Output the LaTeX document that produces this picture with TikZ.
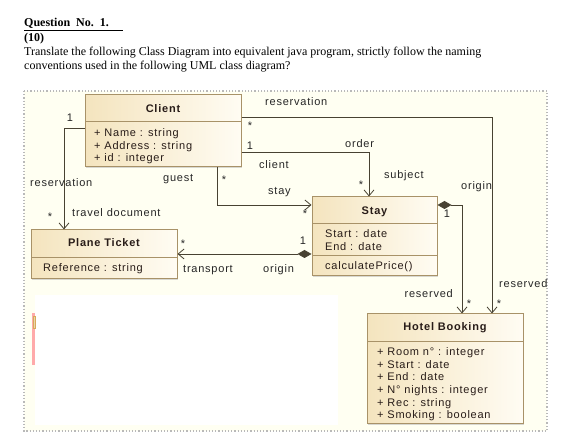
\documentclass[tikz,border=0pt]{standalone}
\usepackage{fontspec}
\setmainfont{Liberation Serif}
\newfontfamily\umlfont[LetterSpace=7]{Liberation Sans}
\usetikzlibrary{arrows.meta,shadows}
\definecolor{bgyellow}{RGB}{255,255,242}
\definecolor{framegray}{RGB}{185,185,185}
\definecolor{boxborder}{RGB}{168,146,104}
\definecolor{boxtan}{RGB}{244,228,190}
\definecolor{boxlight}{RGB}{255,252,243}
\definecolor{linecol}{RGB}{72,66,50}
\definecolor{umltext}{RGB}{40,28,24}
\definecolor{pinkstrip}{RGB}{255,170,170}
\definecolor{tanmark}{RGB}{215,170,90}
\tikzset{
  hdr/.style={font=\fontsize{12}{14}\selectfont, inner sep=0pt, anchor=base west},
  classbox/.style={draw=boxborder, line width=1pt, left color=boxtan, right color=boxlight, inner sep=0pt,
    drop shadow={shadow xshift=1pt, shadow yshift=-1.5pt, fill=black!30, opacity=0.5}},
  divider/.style={draw=boxborder, line width=1pt},
  umlf/.style={font=\umlfont\fontsize{11}{12.5}\selectfont, text=umltext, inner sep=0pt},
  cname/.style={umlf, font=\umlfont\fontsize{11}{12.5}\selectfont\bfseries, anchor=base},
  attr/.style={umlf, anchor=base west},
  lbl/.style={umlf, text=black!85, anchor=base west},
  lblr/.style={umlf, text=black!85, anchor=base east},
  mult/.style={umlf, text=black!85, anchor=base},
  assoc/.style={draw=linecol, line width=0.8pt, -{Straight Barb[length=6pt,width=10pt]}},
  comp/.style={draw=linecol, line width=0.8pt, {Diamond[length=14pt,width=8pt,fill=linecol]}-{Straight Barb[length=6pt,width=10pt]}},
}
\begin{document}
\begin{tikzpicture}[x=1pt,y=-1pt]
\useasboundingbox (0,0) rectangle (587,443);
% header
\node[hdr, font=\fontsize{12}{14}\selectfont\bfseries] (q) at (24,27) {\underline{Question\ \ No.\ \ 1.\hspace{14pt}}};
\node[hdr, font=\fontsize{12}{14}\selectfont\bfseries] (marks) at (24,42) {(10)};
\node[hdr] (l1) at (24,56) {Translate the following Class Diagram into equivalent java program, strictly follow the naming};
\node[hdr] (l2) at (24,70) {conventions used in the following UML class diagram?};
% frame and background
\fill[bgyellow] (24,91) rectangle (547,431);
\draw[framegray, line width=1.2pt, dotted] (24,91) rectangle (547,431);
\fill[white] (35,295) rectangle (338,425);
\fill[pinkstrip] (32,313) rectangle (35,365);
\filldraw[fill=tanmark!50, draw=tanmark] (33,316) rectangle (35,328);
% classes
\node[classbox, minimum width=156pt, minimum height=72pt] (client) at (163,131) {};
\draw[divider] (85,122) -- (241,122);
\node[cname] (clientn) at (163,113) {Client};
\node[attr] (c1) at (94,137) {+ Name : string};
\node[attr] (c2) at (94,150) {+ Address : string};
\node[attr] (c3) at (94,162) {+ id : integer};

\node[classbox, minimum width=125pt, minimum height=79pt] (stay) at (374.5,236.5) {};
\draw[divider] (312,224) -- (437,224);
\draw[divider] (312,256) -- (437,256);
\node[cname] (stayn) at (374.5,215) {Stay};
\node[attr] (s1) at (325,238) {Start : date};
\node[attr] (s2) at (325,251) {End : date};
\node[attr] (s3) at (325,270) {calculatePrice()};

\node[classbox, minimum width=146pt, minimum height=49pt] (plane) at (104,254.5) {};
\draw[divider] (31,258) -- (177,258);
\node[cname] (planen) at (104,247) {Plane Ticket};
\node[attr] (p1) at (43,272) {Reference : string};

\node[classbox, minimum width=156pt, minimum height=110pt] (hotel) at (445,369) {};
\draw[divider] (367,342) -- (523,342);
\node[cname] (hoteln) at (445,331) {Hotel Booking};
\node[attr] (h1) at (377,356) {+ Room n° : integer};
\node[attr] (h2) at (377,369) {+ Start : date};
\node[attr] (h3) at (377,381) {+ End : date};
\node[attr] (h4) at (377,394) {+ N° nights : integer};
\node[attr] (h5) at (377,407) {+ Rec : string};
\node[attr] (h6) at (377,419) {+ Smoking : boolean};
% connectors
\draw[assoc] ([yshift=3pt]client.west) -| ([xshift=-40pt]plane.north);
\draw[assoc] ([yshift=14pt]client.east) -| ([xshift=47pt]hotel.north);
\draw[assoc] ([yshift=-21pt]client.east) -| ([xshift=-5.5pt]stay.north);
\draw[assoc] ([xshift=54pt]client.south) |- ([yshift=31.5pt]stay.west);
\draw[comp] ([yshift=-17.5pt]stay.west) -- ([yshift=-17.5pt]stay.west -| plane.east);
\draw[comp] ([yshift=31.5pt]stay.east) -| ([xshift=17pt]hotel.north);
% labels
\node[mult] (m1) at (70,122) {1};
\node[lbl] (r1) at (30,187) {reservation};
\node[mult] (m2) at (50,221) {*};
\node[lbl] (td) at (72,217) {travel document};
\node[lbl] (r2) at (265,106) {reservation};
\node[mult] (m3) at (250,130) {*};
\node[mult] (m4) at (250,150) {1};
\node[lbl] (cl) at (259,169) {client};
\node[lbl] (od) at (345,148) {order};
\node[lbl] (sb) at (384,179) {subject};
\node[mult] (m5) at (361,189) {*};
\node[lbl] (gu) at (163,182) {guest};
\node[mult] (m6) at (224,184) {*};
\node[lbl] (st) at (268,195) {stay};
\node[mult] (m7) at (305,218) {*};
\node[mult] (m8) at (303,245) {1};
\node[mult] (m9) at (183,248) {*};
\node[lbl] (tr) at (183,273) {transport};
\node[lbl] (or1) at (263,273) {origin};
\node[mult] (m10) at (447,218) {1};
\node[lbl] (or2) at (461,190) {origin};
\node[lblr] (rs1) at (453,298) {reserved};
\node[mult] (m11) at (469,308) {*};
\node[mult] (m12) at (499,308) {*};
\begin{scope}
\clip (24,91) rectangle (547,431);
\node[lbl] (rs2) at (499,288) {reserved};
\end{scope}
\end{tikzpicture}
\end{document}
